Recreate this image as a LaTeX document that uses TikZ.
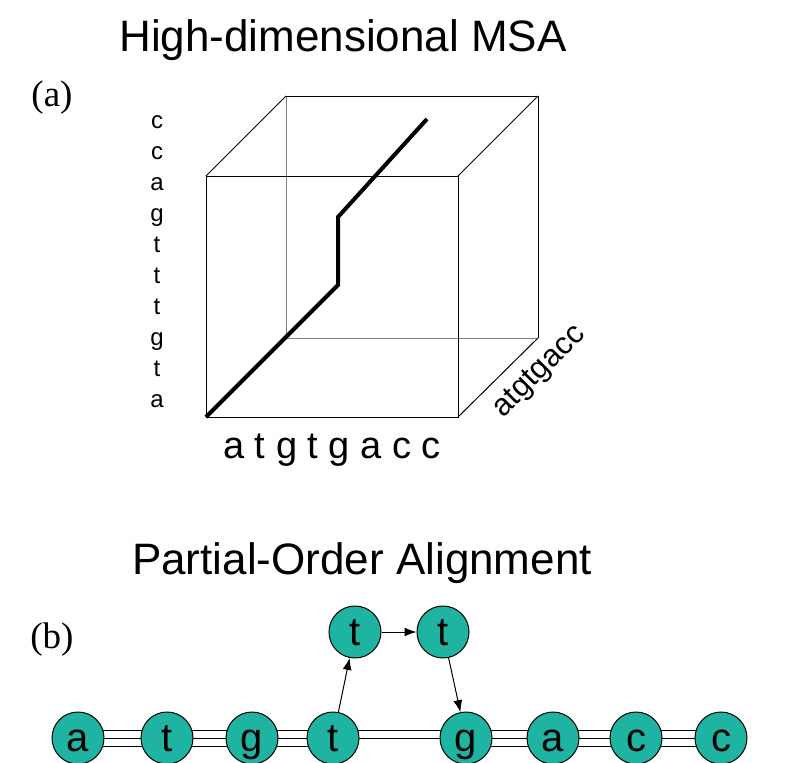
\documentclass[tikz,border=0pt]{standalone}
\usepackage{fontspec}
\setmainfont{Liberation Serif}
\newfontfamily\sans{Liberation Sans}
\usetikzlibrary{arrows.meta}
\definecolor{teal1}{HTML}{1FB3A2}
\begin{document}
\begin{tikzpicture}[x=1pt,y=-1pt,
  res/.style={circle,draw=black,line width=1pt,fill=teal1,minimum size=52pt,inner sep=0pt,
    text height=26pt,text depth=0pt,font=\sans\fontsize{40}{40}\selectfont},
  edge/.style={black,line width=1pt},
  arr/.style={-{Latex[length=12pt,width=9pt]},line width=1pt},
  thin/.style={line width=1pt},
  hidden/.style={line width=1pt,gray}]
\useasboundingbox (0,0) rectangle (790,763);
% (a) cube
\node[font=\sans\fontsize{44}{44}\selectfont] (t1) at (343,40) {High-dimensional MSA};
\node[font=\fontsize{37}{37}\selectfont] (la) at (52,98) {(a)};
\draw[hidden] (286,96) -- (286,338) -- (538,338);
\draw[hidden] (206,417) -- (286,338);
\draw[thin] (286,96) -- (538,96) -- (538,338);
\draw[thin] (206,176) -- (286,96);
\draw[thin] (458,176) -- (538,96);
\draw[thin] (458,417) -- (538,338);
\draw[thin] (206,176) rectangle (458,417);
\draw[line width=4pt] (206,417) -- (338,285) -- (338,217) -- (427,119);
\foreach \c [count=\i] in {c,c,a,g,t,t,t,g,t,a}
  \node[font=\sans\fontsize{24}{24}\selectfont,text height=14pt,text depth=0pt] (v\i) at (157,90+31*\i) {\c};
\node[font=\sans\fontsize{38}{38}\selectfont] (hx) at (332,450) {a t g t g a c c};
\node[font=\sans\fontsize{31}{31}\selectfont,rotate=45] (dx) at (540,372) {atgtgacc};
% (b) partial order graph
\node[font=\sans\fontsize{44}{44}\selectfont] (t2) at (362,563) {Partial-Order Alignment};
\node[font=\fontsize{37}{37}\selectfont] (lb) at (52,640) {(b)};
\foreach \n/\x in {n1/78,n2/167,n3/252,n4/333,n5/466,n6/553,n7/636,n8/721}
  \coordinate (\n) at (\x,738);
\foreach \p/\q in {n1/n2,n2/n3,n3/n4,n5/n6,n6/n7,n7/n8}
  \foreach \o in {-8,0,8}
    \draw[edge] ([yshift=\o pt]\p) -- ([yshift=\o pt]\q);
\foreach \o in {0,8}
  \draw[edge] ([yshift=\o pt]n4) -- ([yshift=\o pt]n5);
\foreach \n/\c in {n1/a,n2/t,n3/g,n4/t,n5/g,n6/a,n7/c,n8/c}
  \node[res] (r\n) at (\n) {\c};
\node[res] (u1) at (355,632) {t};
\node[res] (u2) at (443,632) {t};
\draw[arr] (rn4) -- (u1);
\draw[arr] (u1) -- (u2);
\draw[arr] (u2) -- (rn5);
\end{tikzpicture}
\end{document}
